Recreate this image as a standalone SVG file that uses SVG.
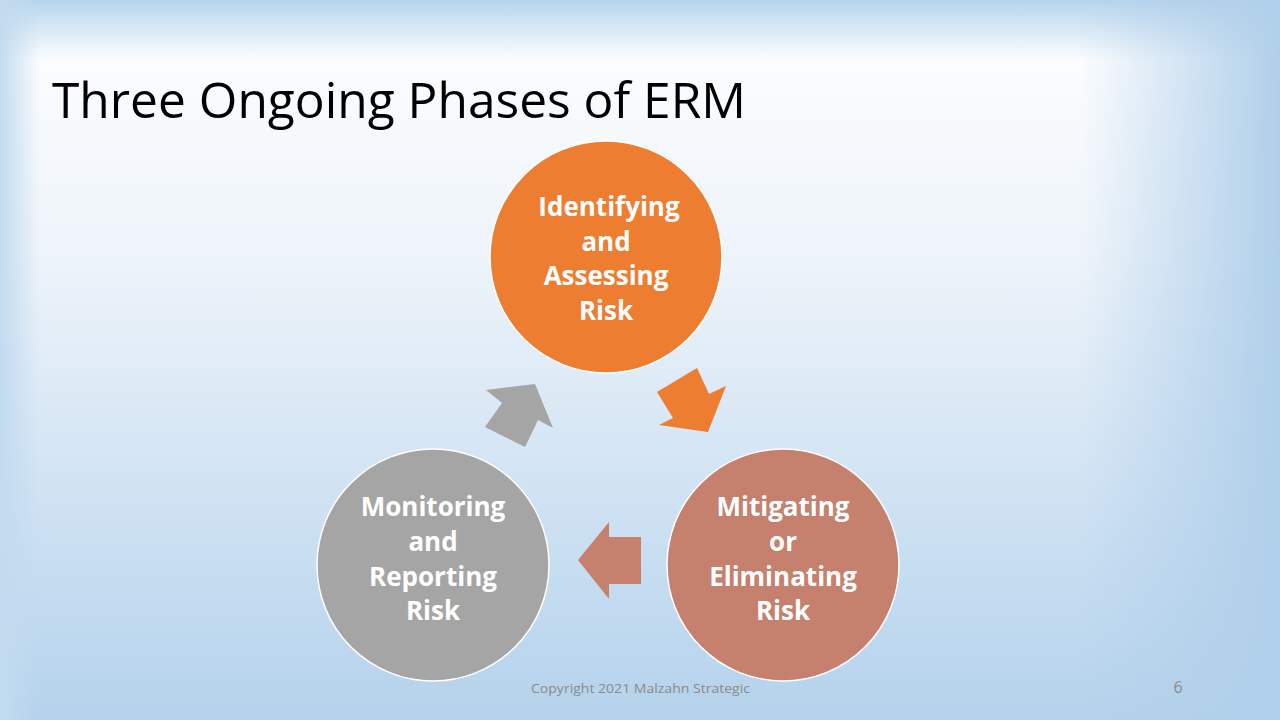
<svg xmlns="http://www.w3.org/2000/svg" width="1280" height="720" viewBox="0 0 1280 720">
<defs>
<linearGradient id="bg" x1="0" y1="0" x2="0" y2="1">
<stop offset="0" stop-color="#ffffff"/><stop offset="0.35" stop-color="#eef4fa"/><stop offset="1" stop-color="#b4d2ec"/>
</linearGradient>
<linearGradient id="top" x1="0" y1="0" x2="0" y2="1"><stop offset="0" stop-color="#b7d4ec"/><stop offset="1" stop-color="#b7d4ec" stop-opacity="0"/></linearGradient>
<linearGradient id="right" x1="1" y1="0" x2="0" y2="0"><stop offset="0" stop-color="#b0cfea"/><stop offset="1" stop-color="#b0cfea" stop-opacity="0"/></linearGradient>
<linearGradient id="left" x1="0" y1="0" x2="1" y2="0"><stop offset="0" stop-color="#c2dbef"/><stop offset="1" stop-color="#c2dbef" stop-opacity="0"/></linearGradient>
<style>
.lbl{font-family:"Open Sans","Liberation Sans",sans-serif;font-weight:bold;font-size:26px;fill:#fff;text-anchor:middle}
.c{stroke:#fff;stroke-width:1.5}
</style>
</defs>
<rect width="1280" height="720" fill="url(#bg)"/>
<rect width="1280" height="60" fill="url(#top)"/>
<rect x="1080" width="200" height="720" fill="url(#right)"/>
<rect width="40" height="720" fill="url(#left)"/>
<text x="52" y="118" font-family="'Open Sans','Liberation Sans',sans-serif" font-size="50" textLength="694" lengthAdjust="spacingAndGlyphs" fill="#000">Three Ongoing Phases of ERM</text>
<g id="connectors">
<polygon points="657,392 697,368 709,394 726,386 708,432 659,425 673,418" fill="#ed7d31"/>
<polygon points="578,560 609,522 609,537 641,537 641,584 609,584 609,599" fill="#c5806e"/>
<polygon points="535,384 553,428 538,420 525,447 485,427 502,403 486,390" fill="#a5a5a5"/>
</g>
<g id="identify">
<circle class="c" cx="606" cy="257" r="116" fill="#ed7d31"/>
<text class="lbl" x="609" y="216">Identifying</text><text class="lbl" x="606" y="251">and</text><text class="lbl" x="606" y="285">Assessing</text><text class="lbl" x="606" y="320">Risk</text>
</g>
<g id="mitigate">
<circle class="c" cx="783" cy="565" r="116" fill="#c5806e"/>
<text class="lbl" x="783" y="516">Mitigating</text><text class="lbl" x="783" y="551">or</text><text class="lbl" x="783" y="586">Eliminating</text><text class="lbl" x="783" y="620">Risk</text>
</g>
<g id="monitor">
<circle class="c" cx="433" cy="565" r="116" fill="#a5a5a5"/>
<text class="lbl" x="433" y="516">Monitoring</text><text class="lbl" x="433" y="551">and</text><text class="lbl" x="433" y="586">Reporting</text><text class="lbl" x="433" y="620">Risk</text>
</g>
<text x="531" y="693" font-family="'Open Sans','Liberation Sans',sans-serif" font-size="13" fill="#8a8a8a" textLength="219" lengthAdjust="spacingAndGlyphs">Copyright 2021 Malzahn Strategic</text>
<text x="1178" y="693" font-family="'Open Sans','Liberation Sans',sans-serif" font-size="16" fill="#8a8a8a" text-anchor="middle">6</text>
</svg>
